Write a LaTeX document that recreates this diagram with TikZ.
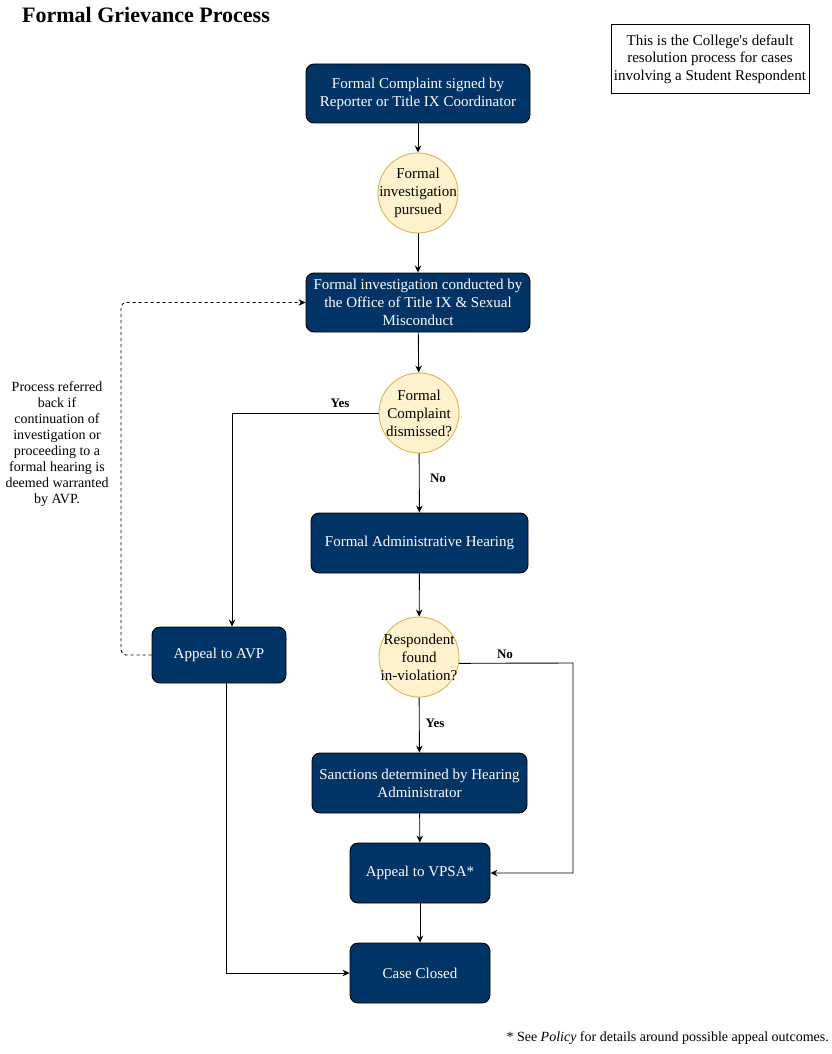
\documentclass[tikz,border=0pt]{standalone}
\usepackage{fontspec}
\setmainfont{Liberation Serif}
\usepackage{xcolor}
\usetikzlibrary{shapes.geometric, arrows.meta, positioning}
\definecolor{navy}{HTML}{003366}
\definecolor{paleyellow}{HTML}{FFF2CC}
\definecolor{goldline}{HTML}{D6B656}

\begin{document}
\begin{tikzpicture}[
	x=1pt, y=-1pt,
	every node/.style={align=center, inner sep=0pt, font=\fontsize{15}{18}\selectfont},
	process/.style={rectangle, draw=black, line width=0.9pt, fill=navy, text=white, rounded corners=8pt, minimum width=224pt, minimum height=59pt},
	decision/.style={circle, draw=goldline, line width=0.9pt, fill=paleyellow, inner sep=-10pt, minimum size=80pt},
	answer/.style={font=\fontsize{13}{15}\selectfont\bfseries},
	arrow/.style={-{Stealth[length=7pt, width=6.5pt]}, line width=0.9pt}
	]
	\useasboundingbox (0,0) rectangle (831,1054);
	
	% Nodes
	\node (title) [anchor=west, font=\fontsize{22}{24}\selectfont\bfseries] at (22,15) {Formal Grievance Process};
	\node (note) [draw, line width=0.9pt, minimum width=198pt, minimum height=69pt, font=\fontsize{15}{17.5}\selectfont] at (710,59) {This is the College\textquotesingle s default\\resolution process for cases\\involving a Student Respondent};
	\node (signed) [process] at (418,93.5) {Formal Complaint signed by\\Reporter or Title IX Coordinator};
	\node (pursued) [decision] at (418,193) {Formal\\investigation\\pursued};
	\node (investigation) [process] at (418,302.5) {Formal investigation conducted by\\the Office of Title IX \& Sexual\\Misconduct};
	\node (dismissed) [decision] at (419,413) {Formal\\Complaint\\dismissed?};
	\node (hearing) [process, minimum width=217pt, minimum height=60pt] at (419.5,543) {Formal Administrative Hearing};
	\node (violation) [decision] at (419,657) {Respondent\\found\\in-violation?};
	\node (sanctions) [process, minimum width=215pt, minimum height=60pt] at (419.5,783) {Sanctions determined by Hearing\\Administrator};
	\node (vpsa) [process, minimum width=140pt, minimum height=60pt] at (420,873) {Appeal to VPSA*};
	\node (closed) [process, minimum width=140pt, minimum height=60pt] at (420,973) {Case Closed};
	\node (avp) [process, minimum width=134pt, minimum height=56pt] at (219,655) {Appeal to AVP};
	\node (referred) [font=\fontsize{14}{16}\selectfont] at (57,444) {Process referred\\back if\\continuation of\\investigation or\\proceeding to a\\formal hearing is\\deemed warranted\\by AVP.};
	\node (footnote) [anchor=east, font=\fontsize{14}{16}\selectfont] at (829,1038) {* See \textit{Policy} for details around possible appeal outcomes.};
	
	% Answers
	\node (yes_dismissed) [answer] at (340,403) {Yes};
	\node (no_dismissed) [answer] at (438,478) {No};
	\node (yes_violation) [answer] at (435,723) {Yes};
	\node (no_violation) [answer] at (505,654) {No};
	
	% Bends
	\coordinate (back_bend) at (121,655);
	\coordinate (no_bend) at (573,663);
	
	% Connections
	\draw [arrow] (signed) -- (pursued);
	\draw [arrow] (pursued) -- (investigation);
	\draw [arrow] (investigation) -- (dismissed);
	\draw [arrow] (dismissed.west) -| ([xshift=13pt]avp.north);
	\draw [arrow] (dismissed) -- (hearing);
	\draw [arrow] (hearing) -- (violation);
	\draw [arrow] (violation) -- (sanctions);
	\draw [arrow] (violation.-9) -- (no_bend) |- (vpsa.east);
	\draw [arrow] (sanctions) -- (vpsa);
	\draw [arrow] (vpsa) -- (closed);
	\draw [arrow] ([xshift=7pt]avp.south) |- (closed.west);
	\draw [arrow, dash pattern=on 3pt off 3pt, rounded corners=5pt] (avp.west) -- (back_bend) |- (investigation.west);
	
\end{tikzpicture}
\end{document}
